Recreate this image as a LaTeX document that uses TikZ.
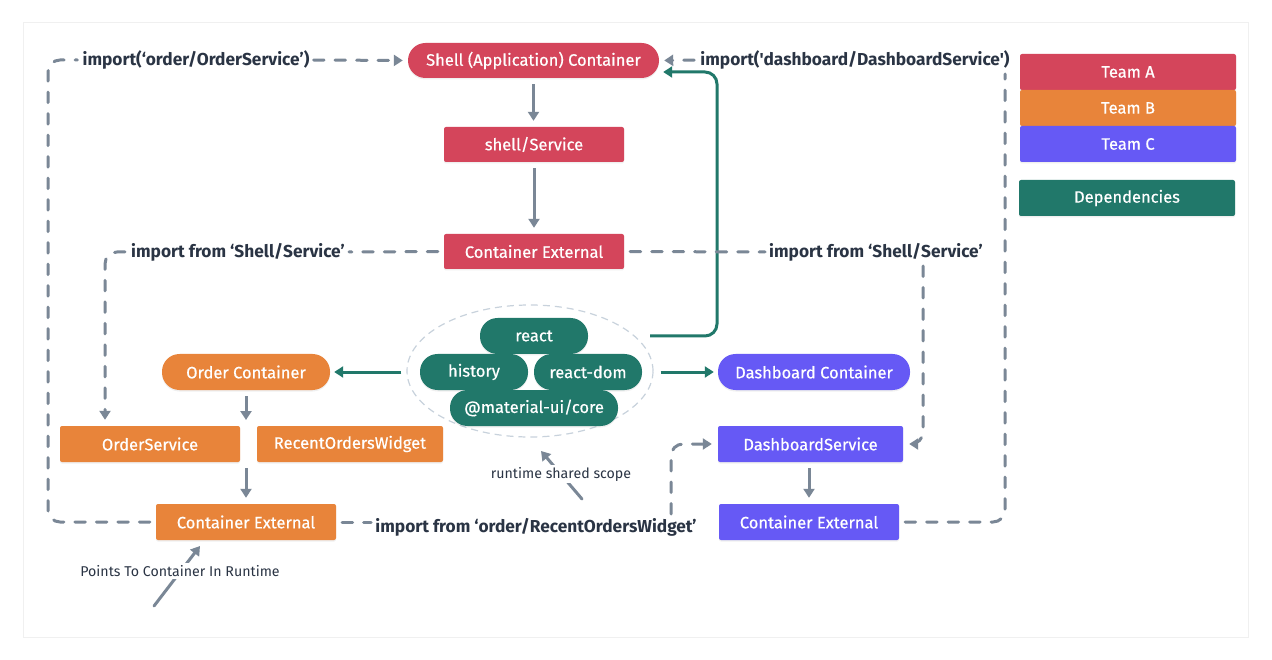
\documentclass[tikz,border=0pt]{standalone}
\usepackage{fontspec}
\setmainfont{Fira Sans}
\newfontfamily\medfont[FakeBold=0.5]{Fira Sans}
\usetikzlibrary{arrows.meta,shapes.geometric,shadows,calc}
\definecolor{teamA}{HTML}{D4455B}
\definecolor{teamB}{HTML}{E8843A}
\definecolor{teamC}{HTML}{6659F5}
\definecolor{dep}{HTML}{21786A}
\definecolor{conn}{HTML}{7A8796}
\definecolor{lbl}{HTML}{2A3444}
\definecolor{scopec}{HTML}{C8D2DC}
\tikzset{
  box/.style={rectangle, rounded corners=2pt, text=white, inner sep=0pt,
    minimum height=35pt, font=\medfont\fontsize{16.5}{19}\selectfont,
    drop shadow={shadow xshift=0pt, shadow yshift=-1.5pt, opacity=0.12}},
  pill/.style={box, rounded corners=17.5pt},
  lbl/.style={text=lbl, font=\bfseries\fontsize{17.3}{20}\selectfont, inner sep=2pt},
  small/.style={text=lbl, font=\fontsize{14.2}{16}\selectfont, fill=white, inner sep=2pt},
  dashconn/.style={draw=conn, line width=3pt, line cap=round, dash pattern=on 10.5pt off 11pt, rounded corners=12pt},
  solidconn/.style={draw=conn, line width=3pt, -{Triangle[length=9pt,width=11pt]}},
  tip/.style={-{Triangle[length=9pt,width=11pt]}},
  depconn/.style={draw=dep, line width=3pt, rounded corners=12pt, -{Triangle[length=9pt,width=11pt]}},
}
\begin{document}
\begin{tikzpicture}[x=1pt,y=-1pt]
\useasboundingbox (0,0) rectangle (1272,660);
\draw[black!6, line width=1pt, fill=white] (23,23) rectangle (1248,637);

% shared scope
\node[ellipse, draw=scopec, dashed, line width=1.2pt, dash pattern=on 7pt off 5pt,
  minimum width=246pt, minimum height=132pt, inner sep=0pt] (scope) at (530,371) {};

% Team A nodes
\node[pill, fill=teamA, minimum width=251pt] (shell) at (533.5,60.5) {Shell (Application) Container};
\node[box, fill=teamA, minimum width=180pt] (shellsvc) at (534,144.5) {shell/Service};
\node[box, fill=teamA, minimum width=180pt] (ceA) at (534,251.5) {Container External};

% Team B nodes
\node[pill, fill=teamB, minimum width=168pt, minimum height=36pt] (order) at (246,372) {Order Container};
\node[box, fill=teamB, minimum width=180pt, minimum height=36pt] (os) at (150,444) {OrderService};
\node[box, fill=teamB, minimum width=186pt, minimum height=36pt] (row) at (350,444) {RecentOrdersWidget};
\node[box, fill=teamB, minimum width=180pt, minimum height=36pt] (ceB) at (246,522) {Container External};

% Team C nodes
\node[pill, fill=teamC, minimum width=192pt, minimum height=36pt] (dash) at (814,372) {Dashboard Container};
\node[box, fill=teamC, minimum width=185pt, minimum height=36pt] (ds) at (810.5,444) {DashboardService};
\node[box, fill=teamC, minimum width=180pt, minimum height=36pt] (ceC) at (809,522) {Container External};

% dependencies
\node[pill, fill=dep, minimum width=108pt, minimum height=36pt, drop shadow={opacity=0}] (react) at (534,336) {react};
\node[pill, fill=dep, minimum width=108pt, minimum height=36pt] (history) at (474,372) {history};
\node[pill, fill=dep, minimum width=108pt, minimum height=36pt] (reactdom) at (588,372) {react-dom};
\node[pill, fill=dep, minimum width=168pt, minimum height=36pt] (mui) at (534,408) {@material-ui/core};

% legend
\node[box, fill=teamA, minimum width=216pt, minimum height=36pt] (la) at (1128,72) {Team A};
\node[box, fill=teamB, minimum width=216pt, minimum height=36pt] (lb) at (1128,108) {Team B};
\node[box, fill=teamC, minimum width=216pt, minimum height=36pt] (lc) at (1128,144) {Team C};
\node[box, fill=dep, minimum width=216pt, minimum height=36pt] (ld) at (1127,198) {Dependencies};

% solid gray arrows
\draw[solidconn, shorten <=6pt, shorten >=6pt] (shell.south) -- (shell.south |- shellsvc.north);
\draw[solidconn, shorten <=6pt, shorten >=6pt] (shellsvc.south) -- (ceA.north);
\coordinate (ojoin) at (246,420);
\coordinate (ojoin2) at (246,468);
\draw[solidconn, shorten <=6pt] (order.south) -- (ojoin);
\draw[solidconn, shorten >=6pt] (ojoin2) -- (ceB.north);
\draw[solidconn, shorten <=6pt, shorten >=6pt] (ds.south -| ceC.north) -- (ceC.north);

% green dependency arrows
\coordinate (gstart) at (650,336);
\coordinate (gcorner) at (717,72);
\draw[depconn, shorten >=4pt] (gstart) -| (gcorner) -- ($(shell.east)+(0,11.5)$);
\draw[depconn, shorten <=5pt, shorten >=4pt] (scope.west |- order.east) -- (order.east);
\draw[depconn, shorten <=7pt, shorten >=4pt] (scope.east |- dash.west) -- (dash.west);

% labels
\node[lbl] (l1) at (196,60) {import(‘order/OrderService’)};
\node[lbl] (l2) at (855,60) {\addfontfeature{Ligatures=TeXOff}import('dashboard/DashboardService')};
\node[lbl] (l3) at (238,252) {import from ‘Shell/Service’};
\node[lbl] (l4) at (876,252) {import from ‘Shell/Service’};
\node[lbl] (l5) at (536,527) {import from ‘order/RecentOrdersWidget’};

% dashed connectors
\coordinate (c1) at (48,60);
\draw[dashconn, shorten <=6pt, shorten >=3pt] (ceB.west) -| (c1) -- (l1.west);
\draw[dashconn, tip, shorten <=2pt, shorten >=5pt] (l1.east) -- (shell.west);

\coordinate (c2) at (1005,74);
\draw[dashconn, shorten <=6pt] (ceC.east) -| (c2);
\draw[dashconn, tip, shorten <=4pt, shorten >=5pt] (l2.west) -- (shell.east);

\draw[dashconn, shorten <=6pt, shorten >=2pt] (ceA.west) -- (l3.east);
\draw[dashconn, tip, shorten <=4pt, shorten >=6pt] (l3.west) -| ([xshift=-45pt]os.north);

\draw[dashconn, shorten <=6pt, shorten >=2pt] (ceA.east) -- (l4.west);
\coordinate (c4) at (923,266);
\draw[dashconn, tip, shorten >=6pt] (c4) |- (ds.east);

\draw[dashconn, shorten <=6pt, shorten >=2pt] (ceB.east) -- (ceB.east -| l5.west);
\coordinate (c5) at (671,514);
\draw[dashconn, tip, shorten >=6pt] (c5) |- (ds.west);

% annotations
\coordinate (rs1) at (582,499);
\coordinate (rs2) at (541,451);
\draw[solidconn, line cap=round] (rs1) -- (rs2);
\node[small] (rss) at (561,474) {runtime shared scope};

\coordinate (p1) at (154,606);
\coordinate (p2) at (200,546);
\draw[solidconn, line cap=round] (p1) -- (p2);
\node[small] (ptc) at (180,571) {Points To Container In Runtime};
\end{tikzpicture}
\end{document}
